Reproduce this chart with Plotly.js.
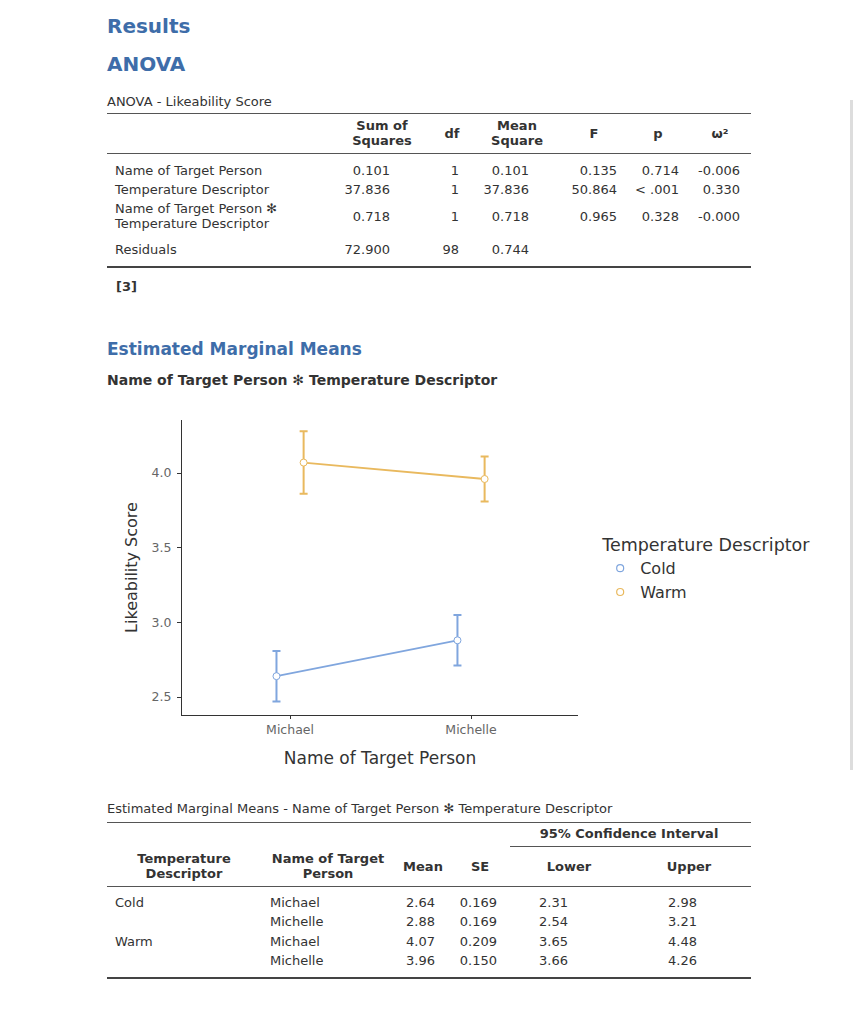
<!DOCTYPE html>
<html>
<head>
<meta charset="utf-8">
<script src="https://cdn.plot.ly/plotly-3.0.1.min.js"></script>
<style>
  html, body { margin: 0; padding: 0; background: #fff; }
  body { width: 858px; height: 1024px; position: relative; overflow: hidden; font-family: 'DejaVu Sans', sans-serif; color: #333; }
  .t { position: absolute; white-space: nowrap; font-size: 13px; color: #333; }
  .b { font-weight: bold; }
  .h { position: absolute; font-weight: bold; color: #3e6da9; white-space: nowrap; }
  .line { position: absolute; background: #555; }
  #plot { position: absolute; left: 100px; top: 400px; width: 750px; height: 380px; }
</style>
</head>
<body>
<div id="page"></div>
<div id="plot"></div>
<script>
// ---------------- DATA ----------------
const anovaTitle = 'ANOVA - Likeability Score';
const anovaHeaders = ['Sum of<br>Squares', 'df', 'Mean<br>Square', 'F', 'p', 'ω²'];
const anovaTerms = ['Name of Target Person', 'Temperature Descriptor', 'Name of Target Person ✻<br>Temperature Descriptor', 'Residuals'];
const anovaSS = ['0.101', '37.836', '0.718', '72.900'];
const anovaDf = ['1', '1', '1', '98'];
const anovaMS = ['0.101', '37.836', '0.718', '0.744'];
const anovaF = ['0.135', '50.864', '0.965', ''];
const anovaP = ['0.714', '< .001', '0.328', ''];
const anovaOmega = ['-0.006', '0.330', '-0.000', ''];
const anovaNote = '[3]';

const emmSection = 'Estimated Marginal Means';
const emmSubtitle = 'Name of Target Person ✻ Temperature Descriptor';
const emmTitle = 'Estimated Marginal Means - Name of Target Person ✻ Temperature Descriptor';
const emmHeaders = ['Temperature<br>Descriptor', 'Name of Target<br>Person', 'Mean', 'SE', 'Lower', 'Upper'];
const emmCIHeader = '95% Confidence Interval';
const emmTemp = ['Cold', '', 'Warm', ''];
const emmName = ['Michael', 'Michelle', 'Michael', 'Michelle'];
const emmMean = ['2.64', '2.88', '4.07', '3.96'];
const emmSE = ['0.169', '0.169', '0.209', '0.150'];
const emmLower = ['2.31', '2.54', '3.65', '3.66'];
const emmUpper = ['2.98', '3.21', '4.48', '4.26'];

// plot data
const targets = ['Michael', 'Michelle'];
const descriptors = ['Cold', 'Warm'];
const coldMean = [2.64, 2.88];
const coldSE = [0.169, 0.169];
const warmMean = [4.07, 3.96];
const warmSE = [0.209, 0.150];
const yTicks = [2.5, 3.0, 3.5, 4.0];
const yTickText = ['2.5', '3.0', '3.5', '4.0'];

// ---------------- PAGE TEXT ----------------
const page = document.getElementById('page');
function txt(x, y, s, align, cls, extra) {
  const d = document.createElement('div');
  d.className = 't' + (cls ? ' ' + cls : '');
  d.innerHTML = s;
  const lines = s.split('<br>').length;
  const lh = 15;
  d.style.lineHeight = lh + 'px';
  d.style.top = (y - lines * lh / 2) + 'px';
  if (align === 'left') { d.style.left = x + 'px'; d.style.textAlign = 'left'; }
  else if (align === 'right') { d.style.left = x + 'px'; d.style.transform = 'translateX(-100%)'; d.style.textAlign = 'right'; }
  else { d.style.left = x + 'px'; d.style.transform = 'translateX(-50%)'; d.style.textAlign = 'center'; }
  if (extra) Object.assign(d.style, extra);
  page.appendChild(d);
}
function hline(x1, x2, y, w, color) {
  const d = document.createElement('div');
  d.className = 'line';
  d.style.left = x1 + 'px'; d.style.width = (x2 - x1) + 'px';
  d.style.top = y + 'px'; d.style.height = (w || 1) + 'px';
  if (color) d.style.background = color;
  page.appendChild(d);
}
function heading(x, y, s, size, color) {
  const d = document.createElement('div');
  d.className = 'h';
  d.textContent = s;
  d.style.fontSize = size + 'px';
  d.style.left = x + 'px';
  d.style.top = (y - size * 0.6) + 'px';
  d.style.lineHeight = (size * 1.2) + 'px';
  if (color) d.style.color = color;
  page.appendChild(d);
}

heading(107, 26, 'Results', 20);
heading(107, 64, 'ANOVA', 20);

// ANOVA table
txt(107, 101, anovaTitle, 'left');
hline(107, 751, 113, 1);
const aHeadX = [382, 452, 517, 594, 658, 720];
anovaHeaders.forEach((h, i) => txt(aHeadX[i], 133, h, 'center', 'b'));
hline(107, 751, 153, 1);
const aRowY = [170, 189, 216, 249];
const aValX = [390, 459, 529, 617, 679, 740];
const aCols = [anovaSS, anovaDf, anovaMS, anovaF, anovaP, anovaOmega];
anovaTerms.forEach((t, r) => {
  txt(115, aRowY[r], t, 'left');
  aCols.forEach((col, c) => { if (col[r]) txt(aValX[c], aRowY[r], col[r], 'right'); });
});
hline(107, 751, 266, 2, '#444');
txt(116, 286, anovaNote, 'left', 'b');

heading(107, 349, emmSection, 17);
heading(107, 380, emmSubtitle, 14, '#333');

// EMM table
txt(107, 808, emmTitle, 'left');
hline(107, 751, 822, 1);
txt(629, 833, emmCIHeader, 'center', 'b');
hline(510, 751, 846, 1);
const eHeadX = [184, 328, 423, 480, 569, 689];
emmHeaders.forEach((h, i) => txt(eHeadX[i], 866, h, 'center', 'b'));
hline(107, 751, 886, 1);
const eRowY = [902, 921, 941, 960];
eRowY.forEach((y, r) => {
  if (emmTemp[r]) txt(115, y, emmTemp[r], 'left');
  txt(270, y, emmName[r], 'left');
  txt(435, y, emmMean[r], 'right');
  txt(497, y, emmSE[r], 'right');
  txt(568, y, emmLower[r], 'right');
  txt(697, y, emmUpper[r], 'right');
});
hline(107, 751, 977, 2, '#444');

// scrollbar hint
const sb = document.createElement('div');
Object.assign(sb.style, {position: 'absolute', left: '850px', top: '100px', width: '3px', height: '670px', background: '#ddd'});
page.appendChild(sb);

// ---------------- PLOT ----------------
const coldColor = '#80a6de';
const warmColor = '#e9b95e';
function trace(name, y, se, color) {
  return {
    type: 'scatter', mode: 'lines+markers', name: name,
    x: targets, y: y,
    error_y: {type: 'data', array: se, visible: true, color: color, thickness: 2, width: 4},
    line: {color: color, width: 1.8},
    marker: {symbol: 'circle', size: 7, color: '#fff', line: {color: color, width: 1}},
    offsetgroup: name, showlegend: false
  };
}
function legendEntry(name, color) {
  return {
    type: 'scatter', mode: 'markers', name: name,
    x: [null], y: [null],
    marker: {symbol: 'circle', size: 7, color: '#fff', line: {color: color, width: 1.2}},
    offsetgroup: name, showlegend: true
  };
}
const data = [
  trace(descriptors[0], coldMean, coldSE, coldColor),
  trace(descriptors[1], warmMean, warmSE, warmColor),
  legendEntry(descriptors[0], coldColor),
  legendEntry(descriptors[1], warmColor)
];
const ff = 'DejaVu Sans, sans-serif';
const layout = {
  width: 750, height: 380,
  margin: {l: 82, r: 272, t: 20, b: 65},
  paper_bgcolor: 'rgba(0,0,0,0)', plot_bgcolor: 'rgba(0,0,0,0)',
  font: {family: ff, color: '#333'},
  scattermode: 'group', scattergap: 0.7,
  showlegend: true,
  xaxis: {
    type: 'category', range: [-0.597, 1.591],
    showline: true, linecolor: '#333', linewidth: 1,
    ticks: 'outside', ticklen: 3, tickcolor: '#333',
    tickfont: {family: ff, size: 12.5, color: '#666'},
    showgrid: false, zeroline: false,
    title: {text: 'Name of Target Person', font: {family: ff, size: 17, color: '#333'}, standoff: 16}
  },
  yaxis: {
    range: [2.38, 4.355],
    tickvals: yTicks, ticktext: yTickText,
    showline: true, linecolor: '#333', linewidth: 1,
    ticks: 'outside', ticklen: 4, tickcolor: '#333',
    ticklabelstandoff: 3,
    tickfont: {family: ff, size: 12.5, color: '#666'},
    showgrid: false, zeroline: false,
    title: {text: 'Likeability Score', font: {family: ff, size: 16, color: '#333'}, standoff: 10}
  },
  legend: {
    title: {text: 'Temperature Descriptor', font: {family: ff, size: 17.5, color: '#333'}},
    font: {family: ff, size: 16, color: '#333'},
    x: 1.056, y: 0.632, xanchor: 'left', yanchor: 'top',
    tracegroupgap: 0, itemwidth: 30, bgcolor: 'rgba(0,0,0,0)'
  }
};
Plotly.newPlot('plot', data, layout, {displayModeBar: false, staticPlot: true});
</script>
</body>
</html>
